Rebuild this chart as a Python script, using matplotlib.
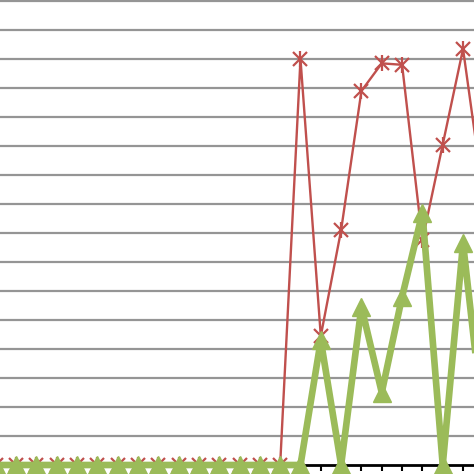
import numpy as np
import matplotlib.pyplot as plt

# Datos (posiciones de categoría, el gráfico original está recortado)
indices = np.arange(-1, 24)
serie_roja = [0, 0, 0, 0, 0, 0, 0, 0, 0, 0, 0, 0, 0, 0, 0,
              14.0, 4.45, 8.1, 12.9, 13.85, 13.8, 7.75, 11.05, 14.35, 9.3]
serie_verde = [0, 0, 0, 0, 0, 0, 0, 0, 0, 0, 0, 0, 0, 0, 0,
               0, 4.3, 0, 5.45, 2.5, 5.8, 8.7, 0, 7.65, 1.4]
niveles_rejilla = np.arange(1, 17)

rojo = "#C0504D"
verde = "#9BBB59"

fig = plt.figure(figsize=(4.74, 4.74), dpi=100)
ax = fig.add_axes([0, 0, 1, 1])

for y in niveles_rejilla:
    ax.axhline(y, color="#959595", lw=1.6, zorder=1)

# Serie roja con marcador tipo asterisco (x + barra vertical)
ax.plot(indices, serie_roja, color=rojo, lw=1.7, zorder=3)
ax.plot(indices, serie_roja, ls="none", marker="x", ms=10, mew=1.6, color=rojo, zorder=3)
ax.plot(indices, serie_roja, ls="none", marker="|", ms=11, mew=1.6, color=rojo, zorder=3)

# Serie verde con triángulos
ax.plot(indices, serie_verde, color=verde, lw=4.8, marker="^", ms=13,
        mfc=verde, mec=verde, zorder=4)

for lado in ["top", "right", "left"]:
    ax.spines[lado].set_visible(False)
ax.spines["bottom"].set_position(("data", 0))
ax.spines["bottom"].set_color("black")
ax.spines["bottom"].set_linewidth(2)
ax.spines["bottom"].set_zorder(2)
ax.set_xticks(indices)
ax.tick_params(axis="x", direction="out", length=4, width=1.5, color="black", labelbottom=False)
ax.set_yticks([])

ax.set_xlim(-16 / 20.32, (474 - 16) / 20.32)
ax.set_ylim(-9 / 29, 465 / 29)

fig.savefig("out.png", dpi=100)
